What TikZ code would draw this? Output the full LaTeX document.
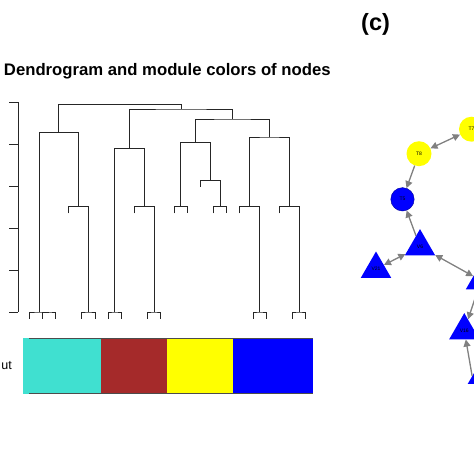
\documentclass[tikz,border=0pt]{standalone}
\usepackage{fontspec}
\setmainfont{Liberation Sans}
\usetikzlibrary{positioning, arrows.meta, shapes.geometric}
\definecolor{edgegray}{rgb}{0.5,0.5,0.5}
\definecolor{modturq}{RGB}{64,224,208}
\definecolor{modbrown}{RGB}{165,42,42}
\definecolor{modyellow}{RGB}{255,255,0}
\definecolor{modblue}{RGB}{0,0,255}
\tikzset{
    branch/.style={line width=1pt, black!85}, % dendrogram lines
    link/.style={line width=1.3pt, edgegray, -{Triangle[length=7pt,width=7pt]}}, % network edges
    twoway/.style={link, {Triangle[length=7pt,width=7pt]}-{Triangle[length=7pt,width=7pt]}},
    tnode/.style={circle, fill=modyellow, minimum size=25pt, inner sep=0pt, font=\fontsize{5}{6}\selectfont},
    cnode/.style={circle, fill=modblue, draw=blue!60!black, line width=0.4pt, minimum size=23.4pt, inner sep=0pt, font=\fontsize{5}{6}\selectfont},
    vnode/.style={regular polygon, regular polygon sides=3, fill=modblue, minimum size=35pt, inner sep=0pt, font=\fontsize{5}{6}\selectfont},
}
\begin{document}
\begin{tikzpicture}[x=1pt, y=-1pt]
  \useasboundingbox (0,0) rectangle (474,474);

  \node[anchor=base west, inner sep=0pt, font=\fontsize{23.5}{28}\selectfont\bfseries] (panel) at (361,30) {(c)};
  \node[anchor=base west, inner sep=0pt, font=\fontsize{16.7}{20}\selectfont\bfseries] (title) at (3.8,75) {Dendrogram and module colors of nodes};

  % axis
  \draw[branch] (18.3,102) -- (18.3,312);
  \foreach \y in {102,144,186,228,270,312}
    \draw[branch] (9.3,\y) -- (18.3,\y);

  % leaves
  \foreach \i/\t in {1/318.7,2/318.7,3/318.7,4/213.3,5/318.7,6/318.7,7/318.7,8/318.7,
                     9/213.3,10/318.7,11/318.7,12/213.3,13/213.3,14/186.7,15/213.3,
                     16/213.3,17/213.3,18/318.7,19/318.7,20/213.3,21/318.7,22/318.7}
    \coordinate (l\i) at ({29.3+13.16*(\i-1)},\t);

  \coordinate (j1) at (49.04,312);
  \coordinate (j2) at (39.17,312);
  \coordinate (j3) at (88.52,312);
  \coordinate (j4) at (78.65,206.7);
  \coordinate (j5) at (58.91,132.7);
  \draw[branch] (l2) |- (j1) -| (l3);
  \draw[branch] (l1) |- (j2) -| (j1);
  \draw[branch] (l5) |- (j3) -| (l6);
  \draw[branch] (l4) |- (j4) -| (j3);
  \draw[branch] (j2) |- (j5) -| (j4);

  \coordinate (j6) at (114.84,312);
  \coordinate (j7) at (154.32,312);
  \coordinate (j8) at (144.45,206.7);
  \coordinate (j9) at (129.65,148.3);
  \draw[branch] (l7) |- (j6) -| (l8);
  \draw[branch] (l10) |- (j7) -| (l11);
  \draw[branch] (l9) |- (j8) -| (j7);
  \draw[branch] (j6) |- (j9) -| (j8);

  \coordinate (j10) at (180.64,206.7);
  \coordinate (j11) at (220.12,206.7);
  \coordinate (j12) at (210.25,180.7);
  \coordinate (j13) at (195.45,142.3);
  \draw[branch] (l12) |- (j10) -| (l13);
  \draw[branch] (l15) |- (j11) -| (l16);
  \draw[branch] (l14) |- (j12) -| (j11);
  \draw[branch] (j10) |- (j13) -| (j12);

  \coordinate (j14) at (259.6,312);
  \coordinate (j15) at (249.73,206.7);
  \coordinate (j16) at (299.08,312);
  \coordinate (j17) at (289.21,206.7);
  \coordinate (j18) at (269.47,137);
  \draw[branch] (l18) |- (j14) -| (l19);
  \draw[branch] (l17) |- (j15) -| (j14);
  \draw[branch] (l21) |- (j16) -| (l22);
  \draw[branch] (l20) |- (j17) -| (j16);
  \draw[branch] (j15) |- (j18) -| (j17);

  \coordinate (j19) at (232.46,119);
  \coordinate (j20) at (181.05,109);
  \coordinate (j21) at (119.98,104.7);
  \draw[branch] (j13) |- (j19) -| (j18);
  \draw[branch] (j9) |- (j20) -| (j19);
  \draw[branch] (j5) |- (j21) -| (j20);

  % module colours
  \fill[modturq] (22.7,338.3) rectangle (101,394);
  \fill[modbrown] (101,338.3) rectangle (166.7,394);
  \fill[modyellow] (166.7,338.3) rectangle (232.7,394);
  \fill[modblue] (232.7,338.3) rectangle (312.7,394);
  \draw[black!70, line width=0.7pt] (29.3,338.6) -- (312.7,338.6);
  \draw[black!70, line width=0.7pt] (29.3,393.7) -- (312.7,393.7);
  \node[anchor=base east, inner sep=0pt, font=\fontsize{12.5}{15}\selectfont] (mod) at (12,369.3) {ut};

  % network
  \begin{scope}
    \clip (330,90) rectangle (474,383.5);
    \node[tnode] (t7) at (471.5,129.2) {T7};
    \node[tnode] (t8) at (419,153.7) {T8};
    \node[cnode] (t5) at (402.5,199.3) {T5};
    \node[vnode] (v6) at (420,246.6) {V6};
    \node[vnode] (v21) at (376,269) {V21};
    \node[vnode] (v3) at (481,280.5) {};
    \node[vnode] (v16) at (464.3,330.6) {V16};
    \node[vnode] (v9) at (474.5,389.7) {};
    \draw[twoway] (t8) -- (t7);
    \draw[link] (t8) -- (t5);
    \draw[link] (v6) -- (t5);
    \draw[twoway] (v6) -- (v21);
    \draw[twoway] (v6) -- (v3);
    \draw[link] (v3) -- (v16);
    \draw[link] (v9) -- (v16);
  \end{scope}
\end{tikzpicture}
\end{document}
